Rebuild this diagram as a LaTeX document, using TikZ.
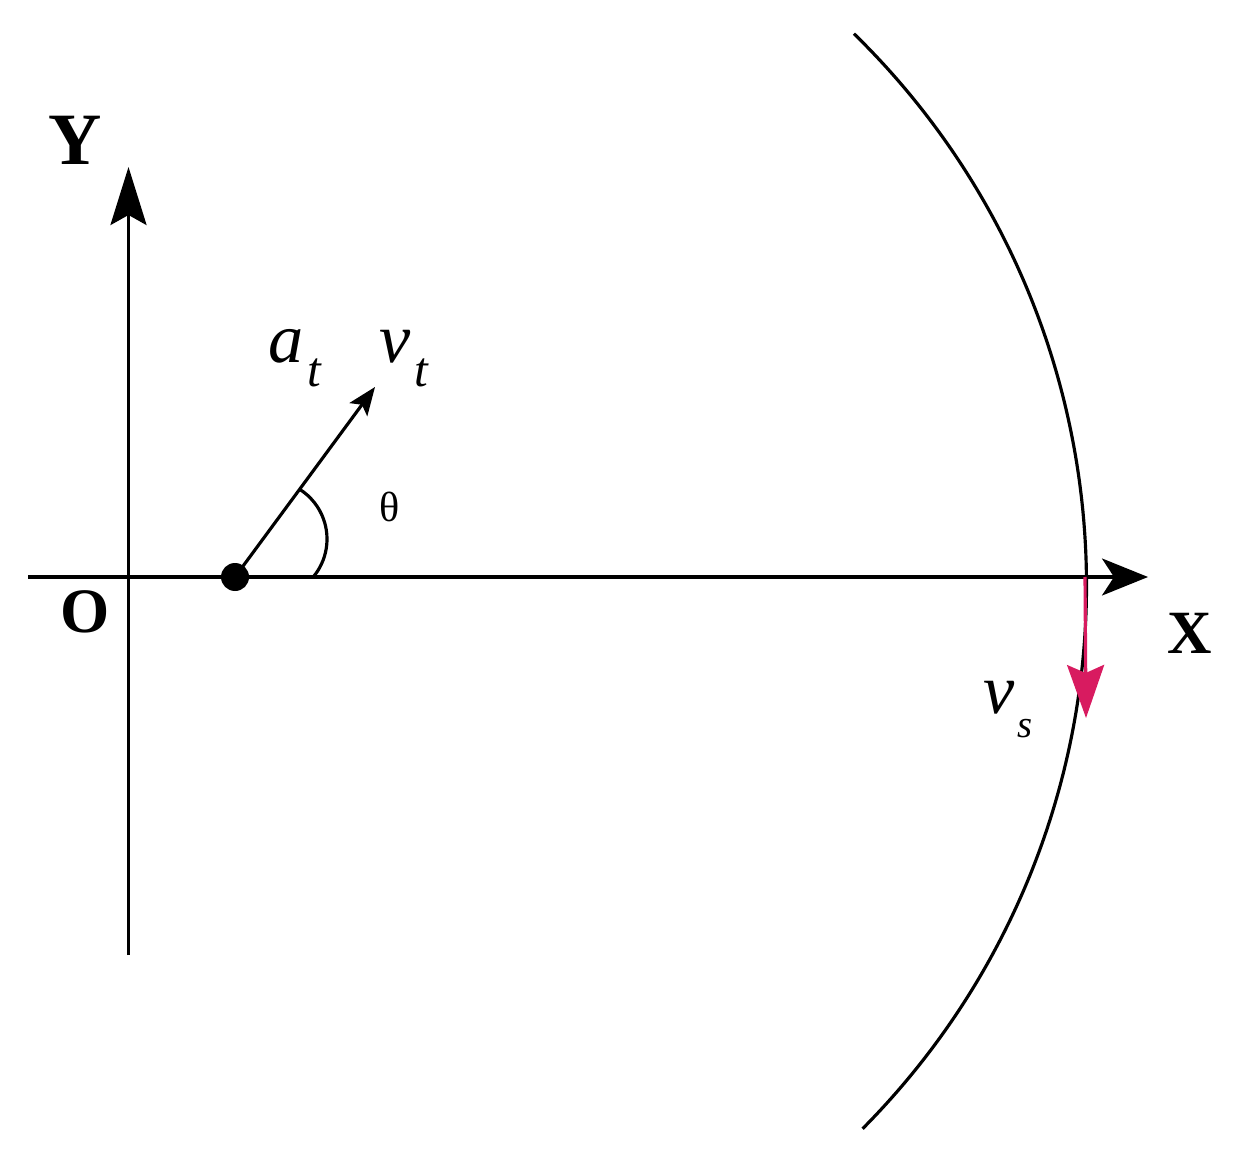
\documentclass[tikz,border=0pt]{standalone}
\usepackage{fontspec}
\setmainfont{Liberation Serif}
\usetikzlibrary{arrows.meta,positioning}
\definecolor{vsred}{RGB}{216,27,96}
\newcommand{\lowsub}[2]{\textit{#1}\hspace{0.4mm}\raisebox{-2.4mm}{\fontsize{#2}{#2}\selectfont\textit{t}}}

\begin{document}
\begin{tikzpicture}[
    line width=0.9pt,
    axisY/.style={-{Stealth[length=5.8mm,width=3.6mm,inset=1mm]}},
    axisX/.style={-{Stealth[length=4.6mm,width=3.7mm,inset=1.2mm]}},
    vecarrow/.style={-{Stealth[length=2.8mm,width=2.2mm,inset=0.6mm]}},
    inner sep=0pt
  ]
      \useasboundingbox (0,0) rectangle (12.36,11.57);
      % axes
      \coordinate (xstart) at (0.28,5.80);
      \coordinate (xtip) at (11.48,5.80);
      \coordinate (ystart) at (1.285,2.02);
      \coordinate (ytip) at (1.285,9.90);
      \draw[axisX] (xstart) -- (xtip);
      \draw[axisY] (ystart) -- (ytip);
      \node[font=\bfseries\fontsize{21}{21}\selectfont] (ylab) at (0.75,10.17) {Y};
      \node[font=\bfseries\fontsize{18}{18}\selectfont] (olab) at (0.85,5.45) {O};
      \node[font=\bfseries\fontsize{17.5}{17.5}\selectfont] (xlab) at (11.90,5.24) {X};
      % particle and its vector
      \node[circle,fill,minimum size=2.8mm] (dot) at (2.35,5.80) {};
      \coordinate (vtip) at (3.75,7.70);
      \draw[vecarrow] (dot.center) -- (vtip);
      \draw (3.132,5.80) arc[start angle=-40,end angle=57,radius=0.59];
      \node[font=\fontsize{12}{12}\selectfont] (theta) at (3.90,6.50) {θ};
      \node[anchor=base west,font=\fontsize{20}{20}\selectfont] (at) at (2.67,7.94) {\lowsub{a}{14}};
      \node[anchor=base west,font=\fontsize{20}{20}\selectfont] (vt) at (3.78,7.94) {\lowsub{v}{14}};
      % circle arc and v_s
      \draw (3.155,5.715) ++(-44.8:7.71) arc[start angle=-44.8,end angle=45.7,radius=7.71];
      \coordinate (vsstart) at (10.85,5.80);
      \coordinate (vstip) at (10.86,4.39);
      \draw[vsred,-{Stealth[length=5.3mm,width=3.7mm,inset=0.8mm]}] (vsstart) -- (vstip);
      \node[anchor=base west,font=\fontsize{20}{20}\selectfont] (vs) at (9.82,4.44)
        {\textit{v}\hspace{0.3mm}\raisebox{-2.4mm}{\fontsize{11}{11}\selectfont\textit{s}}};
\end{tikzpicture}
\end{document}
